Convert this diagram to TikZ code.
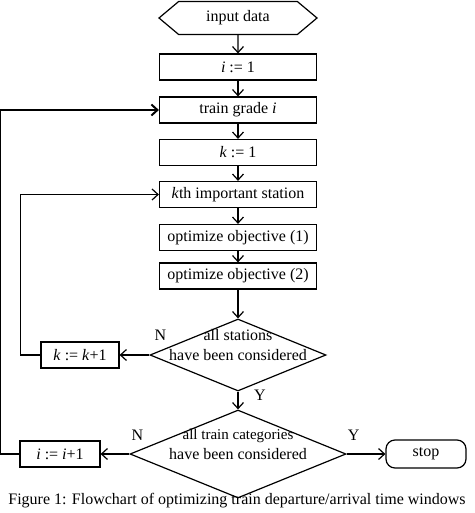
\documentclass[tikz,border=0pt]{standalone}
\usepackage{fontspec}
\setmainfont{Liberation Serif}
\usetikzlibrary{shapes.geometric,shapes.symbols,arrows.meta,positioning}

\begin{document}
\begin{tikzpicture}[
    x=1pt, y=1pt,
    on grid,
    font=\fontsize{16}{20}\selectfont,
    box/.style={rectangle, draw, line width=1.2pt, minimum width=157pt, minimum height=26pt, inner sep=0pt, align=center},
    decision/.style={diamond, draw, line width=1.2pt, inner sep=0pt},
    tag/.style={inner sep=0pt},
    arrow/.style={-{Straight Barb[length=6pt,width=11pt]}, line width=1.2pt}
]
    \useasboundingbox (0,0) rectangle (474,-513);

    % Input
    \node[signal, signal to=west and east, signal pointer angle=80, draw, line width=1.2pt, minimum width=158pt, minimum height=33pt, inner sep=0pt] (input) at (238,-18) {input data};

    % Main chain
    \node[box, below=49pt of input] (ione) {\textit{i} := 1};
    \node[box, below=43pt of ione] (grade) {train grade \textit{i}};
    \node[box, below=42.5pt of grade] (kone) {\textit{k} := 1};
    \node[box, below=42pt of kone] (station) {\textit{k}th important station};
    \node[box, below=43pt of station] (objone) {optimize objective (1)};
    \node[box, below=38.5pt of objone] (objtwo) {optimize objective (2)};

    % Decisions
    \node[decision, minimum width=176pt, minimum height=72pt, below=79pt of objtwo,
        label={[align=center, yshift=10pt]center:all stations\\have been considered}] (allst) {};
    \node[decision, minimum width=216pt, minimum height=88pt, below=99pt of allst,
        label={[align=center, yshift=10pt]center:{\fontsize{15}{20}\selectfont all train categories}\\have been considered}] (alltr) {};

    % Counters and stop
    \node[box, minimum width=78pt, left=158pt of allst] (kinc) {\textit{k} := \textit{k}+1};
    \node[box, minimum width=80pt, left=178pt of alltr] (iinc) {\textit{i} := \textit{i}+1};
    \node[rectangle, draw, line width=1.2pt, rounded corners=9pt, minimum width=80pt, minimum height=28pt, right=188pt of alltr] (stop) {stop};

    % Branch labels
    \node[tag, above right=14pt and 5pt of allst.west] (nst) {N};
    \node[tag, right=16pt of allst.south, yshift=-4pt] (yst) {Y};
    \node[tag, above right=13pt and 2pt of alltr.west] (ntr) {N};
    \node[tag, above right=13pt and 1pt of alltr.east] (ytr) {Y};

    % Caption
    \node (caption) at (237,-501) {Figure 1: Flowchart of optimizing train departure/arrival time windows};

    % Arrows
    \draw[arrow] (input) -- (ione);
    \draw[arrow] (ione) -- (grade);
    \draw[arrow] (grade) -- (kone);
    \draw[arrow] (kone) -- (station);
    \draw[arrow] (station) -- (objone);
    \draw[arrow] (objone) -- (objtwo);
    \draw[arrow] (objtwo) -- (allst);
    \draw[arrow] (allst) -- (alltr);
    \draw[arrow] (allst.west) -- (kinc.east);
    \draw[arrow] (alltr.west) -- (iinc.east);
    \draw[arrow] (alltr.east) -- (stop.west);
    \draw[arrow] (kinc.west) -- ++(-20pt,0) |- (station.west);
    \draw[arrow, line width=2pt] (iinc.west) -- ++(-19pt,0) |- (grade.west);
\end{tikzpicture}
\end{document}
